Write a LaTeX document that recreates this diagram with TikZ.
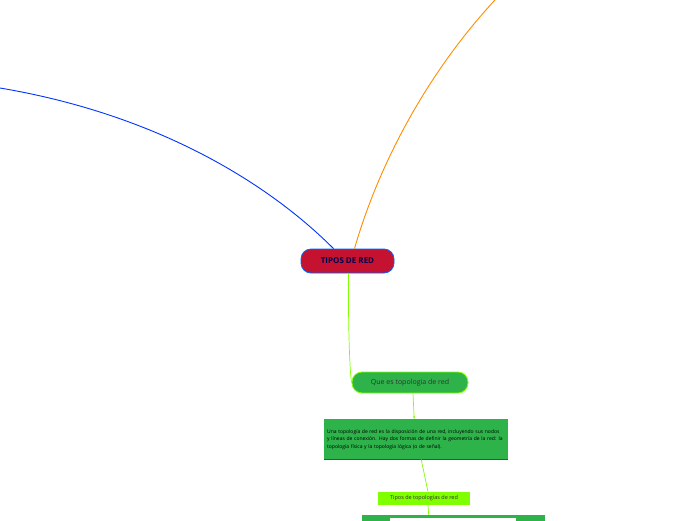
\documentclass[tikz,border=0pt]{standalone}
\usepackage{fontspec}
\setmainfont{Open Sans}
\usetikzlibrary{arrows.meta}
\begin{document}
\begin{tikzpicture}[x=1pt,y=-1pt,
  lnk/.style={line width=0.9pt},
]
\useasboundingbox (0,0) rectangle (696,520);
\clip (0,0) rectangle (696,520);
\definecolor{crim}{HTML}{C41230}
\definecolor{gr}{HTML}{2DB34A}
\definecolor{lg}{HTML}{7FFF00}
\node[draw=blue!60!cyan,line width=0.8pt,fill=crim,rounded corners=10pt,minimum width=93pt,minimum height=24pt,font=\fontsize{8}{9}\selectfont\bfseries,text=blue!30!black] (root) at (347.5,261) {TIPOS DE RED};
\coordinate (bl) at (0,88);
\coordinate (or) at (495,0);
\draw[lnk,blue!80!cyan] (bl) .. controls (160,115) and (270,185) .. ([xshift=-14pt]root.north);
\draw[lnk,orange!90!yellow] ([xshift=7pt]root.north) .. controls (380,160) and (430,70) .. (or);
\node[fill=gr,draw=lg,line width=0.8pt,rounded corners=10pt,minimum width=116pt,minimum height=21pt,font=\fontsize{7}{8}\selectfont,text=black!80] (q) at (410,382.5) {Que es topologia de red};
\draw[lg,line width=0.7pt] ([xshift=1pt]root.south) .. controls (348,330) and (350,375) .. (q.west);
\node[fill=gr,minimum width=184pt,minimum height=40pt,inner sep=2pt,anchor=north west,align=left,text width=178pt,font=\fontsize{5}{7.5}\selectfont] (d) at (324,419) {Una topología de red es la disposición de una red, incluyendo sus nodos y líneas de conexión. Hay dos formas de definir la geometría de la red: la topología física y la topología lógica (o de señal).};
\draw[green!50!black,line width=1pt] (d.south west) -- (d.south east);
\draw[lg,line width=0.7pt,-{Stealth[length=3pt]}] ([xshift=3pt]q.south) -- ([xshift=-2pt]d.north);
\node[fill=lg,minimum width=92pt,minimum height=13pt,inner sep=0pt,font=\fontsize{5.5}{6}\selectfont,text=black!80] (t) at (424,498.5) {Tipos de topologías de red};
\draw[lg,line width=0.7pt] ([xshift=5pt]d.south) -- ([xshift=4pt]t.north);
\node[fill=gr,minimum width=183pt,minimum height=14pt,anchor=north west,inner sep=0pt] (b) at (362,515) {};
\fill[white] (390,518) rectangle (516,525);
\draw[lg,line width=0.7pt] ([xshift=4pt]t.south) -- ([xshift=-25pt]b.north);
\end{tikzpicture}
\end{document}
